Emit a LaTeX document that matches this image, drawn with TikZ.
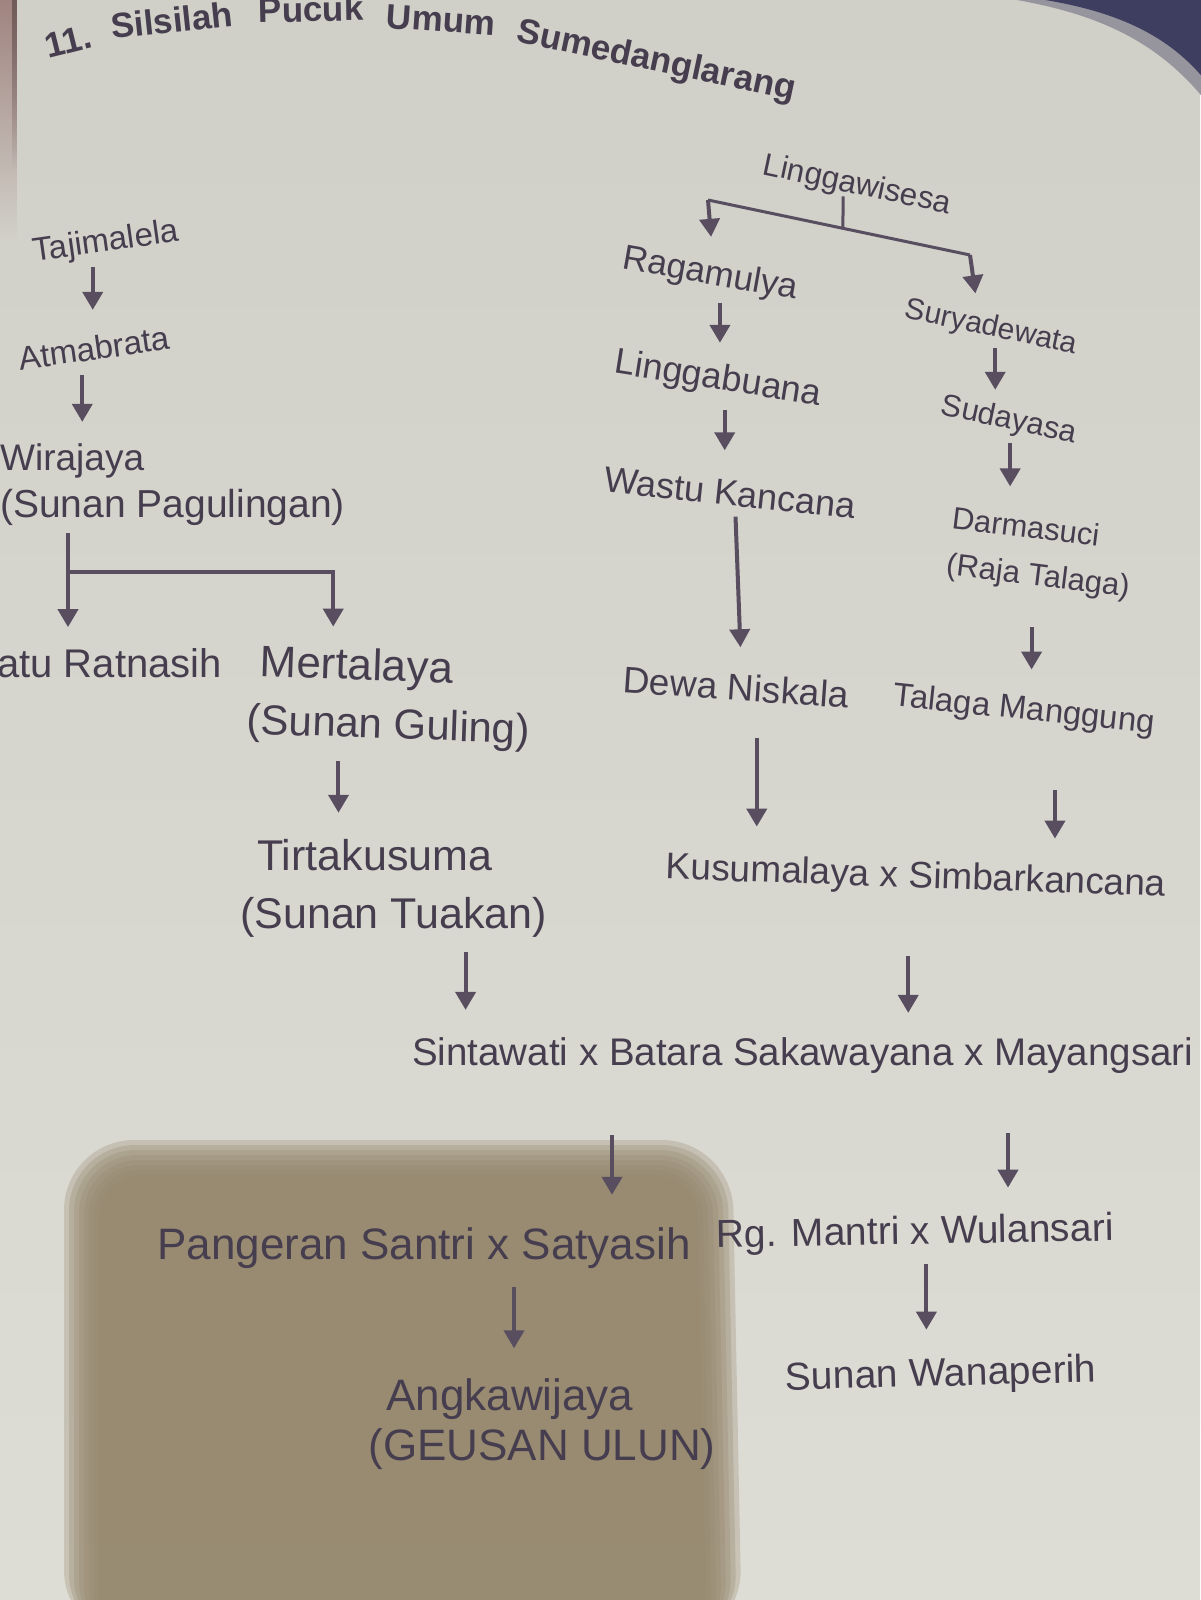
\documentclass[tikz,border=0pt]{standalone}
\usepackage{fontspec}
\setmainfont{Liberation Sans}
\usetikzlibrary{arrows.meta,calc,fadings}
\definecolor{ink}{RGB}{70,62,78}
\definecolor{ink2}{RGB}{88,78,96}
\definecolor{papertop}{RGB}{208,207,200}
\definecolor{papermid}{RGB}{227,228,218}
\definecolor{paperbot}{RGB}{222,221,213}
\definecolor{shadowc}{RGB}{150,136,110}
\definecolor{outside}{RGB}{62,62,96}
\definecolor{leftc}{RGB}{160,132,128}
\newcommand\fs[2]{\fontsize{#1}{#2}\selectfont}
\tikzset{
  lbl/.style={text=ink, inner sep=4pt},
  ttl/.style={text=ink, inner sep=0pt, font=\fs{35}{40}\bfseries},
  arr/.style={draw=ink2, line width=4pt, -{Triangle[length=18pt,width=20pt]}},
  brk/.style={draw=ink2, line width=3pt},
}
\begin{document}
\begin{tikzpicture}[x=1pt,y=-1pt]
\useasboundingbox (0,0) rectangle (1200,1600);
% paper
\shade[top color=papertop, middle color=papermid, bottom color=paperbot] (0,0) rectangle (1200,1600);
% left gutter strip
\fill[leftc, path fading=south] (0,0) rectangle (17,240);
\fill[leftc!70!black, path fading=south] (12,0) rectangle (17,170);
% top right outside the page
\fill[outside!40!papertop] (985,-5) .. controls (1080,8) and (1150,32) .. (1205,100) -- (1205,-5) -- cycle;
\fill[outside] (1010,-5) .. controls (1095,5) and (1160,25) .. (1205,80) -- (1205,-5) -- cycle;
% hand shadow bottom left (soft edges from stacked layers)
\foreach \l/\t/\r/\c in {64/1140/732/70, 69/1145/727/66, 74/1150/722/62, 79/1155/717/58,
                        84/1160/712/54, 89/1165/707/50, 94/1170/702/46, 99/1175/697/42}{
  \fill[shadowc, opacity=0.3, rounded corners=\c pt] (\l,1640) -- (\l,\t) -- (\r,\t) -- (\r+10,1640) -- cycle;
}

% title
\node[ttl, rotate=14] (t1) at (68,41) {11.};
\node[ttl, rotate=6] (t2) at (172,20) {Silsilah};
\node[ttl, rotate=1] (t3) at (311,9) {Pucuk};
\node[ttl, rotate=-4] (t4) at (441,20) {Umum};
\node[ttl, rotate=-12] (t5) at (656,62) {Sumedanglarang};

% left lineage
\node[lbl, rotate=8, font=\fs{33}{40}] (taji) at (106,243) {Tajimalela};
\node[lbl, rotate=8, font=\fs{33}{40}] (atma) at (94,348) {Atmabrata};
\node[lbl, anchor=west, align=left, font=\fs{37}{47}] (wira) at (-4,485) {Wirajaya\\{\fs{39}{47}(Sunan Pagulingan)}};
\node[lbl, anchor=east, font=\fs{40}{48}] (ratna) at (226,663) {Ratu Ratnasih};
\node[lbl, anchor=west, rotate=-2, align=left, font=\fs{42}{58}] (merta) at (244,693) {\hspace*{11pt}{\fs{44}{58}Mertalaya}\\(Sunan Guling)};
\node[lbl, anchor=west, align=left, font=\fs{43}{58}] (tirta) at (236,888) {\hspace*{17pt}Tirtakusuma\\(Sunan Tuakan)};

% right lineage
\node[lbl, rotate=-12, font=\fs{31.5}{38}] (lw) at (857,186) {Linggawisesa};
\node[lbl, rotate=-10, font=\fs{35}{42}] (raga) at (710,275) {Ragamulya};
\node[lbl, rotate=-12, font=\fs{30}{36}] (surya) at (991,328) {Suryadewata};
\node[lbl, rotate=-9, font=\fs{36}{43}] (lbuana) at (718,380) {Linggabuana};
\node[lbl, rotate=-12, font=\fs{31}{37}] (sudaya) at (1009,421) {Sudayasa};
\node[lbl, rotate=-6, font=\fs{36}{43}] (wastu) at (730,493) {Wastu Kancana};
\node[lbl, anchor=west, rotate=-7, align=left, font=\fs{31}{46}] (darma) at (945,543) {Darmasuci\\(Raja Talaga)};
\node[lbl, rotate=-4, font=\fs{37}{44}] (dewa) at (736,687) {Dewa Niskala};
\node[lbl, rotate=-6, font=\fs{33}{40}] (tala) at (1024,711) {Talaga Manggung};
\node[lbl, rotate=-2, font=\fs{37}{44}] (kusu) at (916,878) {Kusumalaya x Simbarkancana};

% joined lines
\node[lbl, anchor=west, font=\fs{38.5}{46}] (sinta) at (408,1056) {Sintawati x Batara Sakawayana x Mayangsari};
\node[lbl, font=\fs{44}{52}] (santri) at (424,1248) {Pangeran Santri x Satyasih};
\node[lbl, rotate=1, font=\fs{39}{46}] (mantri) at (915,1234) {Rg. Mantri x Wulansari};
\node[lbl, align=center, font=\fs{44}{50}] (angka) at (542,1424) {\hspace*{-64pt}Angkawijaya\\(GEUSAN ULUN)};
\node[lbl, rotate=1.5, font=\fs{39}{46}] (wana) at (941,1376) {Sunan Wanaperih};

% connectors, left
\coordinate (s1) at ([xshift=-16pt]taji.south);
\draw[arr, shorten <=5pt, shorten >=22pt] (s1) -- (s1 |- atma.north);
\coordinate (s2) at ([xshift=-14pt]atma.south);
\draw[arr, shorten <=11pt, shorten >=18pt] (s2) -- (s2 |- wira.north);
\coordinate (s3) at ([xshift=72pt]wira.south west);
\draw[arr, shorten <=3pt, shorten >=17pt] (s3) -- (s3 |- ratna.north);
\coordinate (wb) at ([xshift=72pt,yshift=-42pt]wira.south west);
\coordinate (t4) at ([xshift=-58pt]merta.north);
\draw[arr, shorten >=18pt] (wb) -| (t4);
\coordinate (s5) at ([xshift=-49pt]merta.south);
\draw[arr, shorten <=9pt, shorten >=22pt] (s5) -- (s5 |- tirta.north);
\coordinate (s6) at ([xshift=72pt]tirta.south);
\draw[arr, shorten <=11pt, shorten >=24pt] (s6) -- (s6 |- sinta.north);

% connectors, right
\coordinate (bl) at (708,200);
\coordinate (br) at (970,255);
\coordinate (bs) at ($(bl)!0.515!(br)$);
\draw[brk] ([xshift=-10pt,yshift=8pt]lw.south) -- (bs);
\draw[brk] (bl) -- (br);
\draw[arr, shorten >=18pt] (bl) -- ([xshift=-1pt]raga.north);
\draw[arr, shorten >=17pt] (br) -- ([xshift=-17pt]surya.north);
\coordinate (s11) at ([xshift=13.5pt]raga.south);
\draw[arr, shorten <=8pt, shorten >=16.5pt] (s11) -- (s11 |- lbuana.north);
\coordinate (s12) at ([xshift=10pt]lbuana.south);
\draw[arr, shorten <=9.5pt, shorten >=26pt] (s12) -- (s12 |- wastu.north);
\draw[arr, shorten <=7pt, shorten >=22pt] ([xshift=7pt]wastu.south) -- ([xshift=4pt]dewa.north);
\coordinate (s14) at ([xshift=22pt]dewa.south);
\draw[arr, shorten <=33pt, shorten >=30pt] (s14) -- (s14 |- kusu.north);
\coordinate (s15) at ([xshift=8pt]surya.south);
\draw[arr, shorten <=2pt, shorten >=13pt] (s15) -- (s15 |- sudaya.north);
\coordinate (s16) at ([xshift=5pt]sudaya.south);
\draw[arr, shorten <=4pt, shorten >=27pt] (s16) -- (s16 |- darma.north);
\coordinate (s17) at ([xshift=-4pt]darma.south);
\draw[arr, shorten <=31pt, shorten >=22pt] (s17) -- (s17 |- tala.north);
\coordinate (s18) at ([xshift=33pt]tala.south);
\draw[arr, shorten <=60pt, shorten >=18pt] (s18) -- (s18 |- kusu.north);
\coordinate (s19) at ([xshift=-7pt]kusu.south);
\draw[arr, shorten <=57pt, shorten >=21pt] (s19) -- (s19 |- sinta.north);

% connectors, bottom
\coordinate (s20) at ([xshift=204pt]sinta.south west);
\draw[arr, shorten <=57pt, shorten >=28.5pt] (s20) -- (s20 |- santri.north);
\coordinate (s21) at ([xshift=600pt]sinta.south west);
\draw[arr, shorten <=55pt, shorten >=24pt] (s21) -- (s21 |- mantri.north);
\coordinate (s22) at ([xshift=90pt]santri.south);
\draw[arr, shorten <=14.5pt, shorten >=26pt] (s22) -- (s22 |- angka.north);
\coordinate (s23) at ([xshift=11pt]mantri.south);
\draw[arr, shorten <=8pt, shorten >=24pt] (s23) -- (s23 |- wana.north);
\end{tikzpicture}
\end{document}
